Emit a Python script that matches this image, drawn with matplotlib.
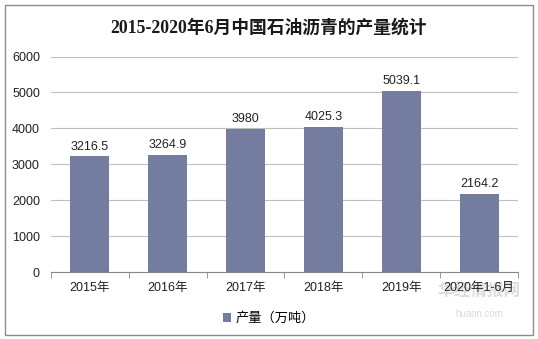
import matplotlib.pyplot as plt
from matplotlib.patches import Rectangle

plt.rcParams['font.family'] = ['Liberation Sans', 'Noto Sans CJK SC', 'DejaVu Sans']

years = ["2015年", "2016年", "2017年", "2018年", "2019年", "2020年1-6月"]
output = [3216.5, 3264.9, 3980, 4025.3, 5039.1, 2164.2]
value_labels = ["3216.5", "3264.9", "3980", "4025.3", "5039.1", "2164.2"]

bar_color = "#747CA0"

fig = plt.figure(figsize=(5.38, 3.39), dpi=100)
fig.patches.append(Rectangle((0.009, 0.012), 0.981, 0.973, transform=fig.transFigure,
                             fill=False, edgecolor="#8c8c8c", linewidth=1.0))
ax = fig.add_axes([0.0948, 0.1976, 0.868, 0.6357])
ax.patch.set_visible(False)

x = list(range(len(years)))
ax.bar(x, output, width=0.5, color=bar_color, zorder=3, label="产量（万吨）")
for xi, v, lab in zip(x, output, value_labels):
    ax.text(xi, v + 110, lab, ha="center", va="bottom", fontsize=9, color="#222222")

ax.set_xlim(-0.5, len(years) - 0.5)
ax.set_ylim(0, 6000)
ax.set_yticks(range(0, 6001, 1000))
ax.grid(axis="y", color="#bfbfbf", linewidth=0.8, zorder=0)
for s in ["top", "right", "left"]:
    ax.spines[s].set_visible(False)
ax.spines["bottom"].set_color("#888888")
ax.tick_params(axis="y", length=0, labelsize=9, pad=8, labelcolor="#222222")
ax.set_xticks(x)
ax.set_xticklabels(years, fontsize=9, color="#222222")
ax.tick_params(axis="x", length=0, pad=7)
ax.set_xticks([i - 0.5 for i in range(len(years) + 1)], minor=True)
ax.tick_params(axis="x", which="minor", length=4, color="#888888", direction="out")

fig.text(0.4985, 0.917, "2015-2020年6月中国石油沥青的产量统计", ha="center", va="center",
         fontsize=12.8, fontweight="bold", color="#1a1a1a",
         family=["Liberation Serif", "Noto Sans CJK SC"])

fig.legend(loc="center", bbox_to_anchor=(0.5, 0.06), frameon=False, fontsize=9.5,
           handlelength=0.6, handleheight=0.6, handletextpad=0.3)

# watermark, drawn under the axis labels
fig.text(0.89, 0.138, "华经情报网", ha="center", va="center", fontsize=12,
         color="#dcdcdc", fontweight="bold", zorder=-1)
fig.text(0.89, 0.075, "huaon.com", ha="center", va="center", fontsize=7,
         color="#dadada", zorder=-1)

fig.savefig("out.png", dpi=100)
